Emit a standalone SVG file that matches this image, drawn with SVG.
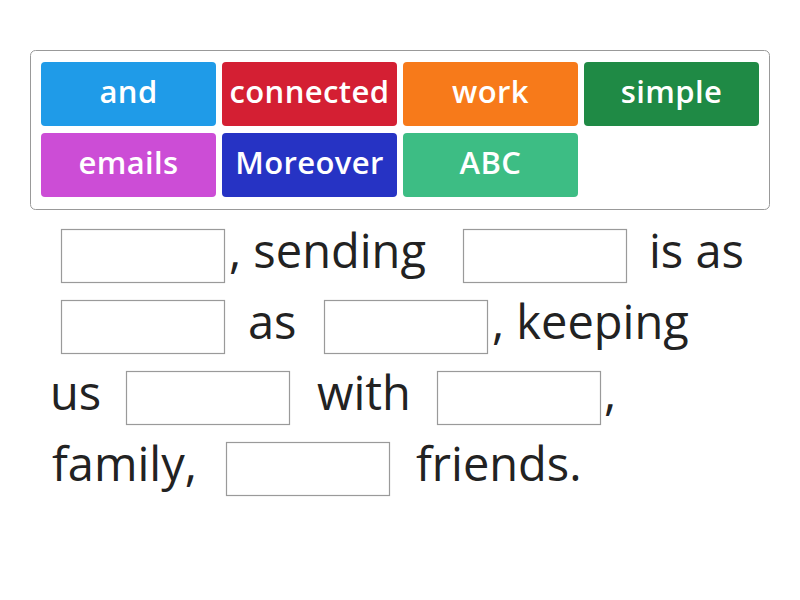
<svg xmlns="http://www.w3.org/2000/svg" width="800" height="600" viewBox="0 0 800 600">
<style>
.t{font-family:"Open Sans",sans-serif;font-weight:600;font-size:31px;letter-spacing:0.4px;fill:#fff;text-anchor:middle}
.s{font-family:"Open Sans",sans-serif;font-size:47px;fill:#222}
.b{fill:#fff;stroke:#9a9a9a;stroke-width:1.2}
</style>
<rect width="800" height="600" fill="#fff"/>
<rect x="30.5" y="50.5" width="739" height="159" rx="5" fill="#fff" stroke="#999"/>
<g id="and"><rect x="41" y="62" width="175" height="64" rx="4" fill="#1f9be8"/><text class="t" x="128.5" y="103">and</text></g>
<g id="connected"><rect x="222" y="62" width="175" height="64" rx="4" fill="#d41f33"/><text class="t" x="309.5" y="103">connected</text></g>
<g id="work"><rect x="403" y="62" width="175" height="64" rx="4" fill="#f77a1a"/><text class="t" x="490.5" y="103">work</text></g>
<g id="simple"><rect x="584" y="62" width="175" height="64" rx="4" fill="#1f8a45"/><text class="t" x="671.5" y="103">simple</text></g>
<g id="emails"><rect x="41" y="133" width="175" height="64" rx="4" fill="#cc4dd6"/><text class="t" x="128.5" y="174">emails</text></g>
<g id="moreover"><rect x="222" y="133" width="175" height="64" rx="4" fill="#2633c4"/><text class="t" x="309.5" y="174">Moreover</text></g>
<g id="abc"><rect x="403" y="133" width="175" height="64" rx="4" fill="#3dbd84"/><text class="t" x="490.5" y="174">ABC</text></g>
<g id="blanks">
<rect class="b" x="61.5" y="229.5" width="163" height="53"/>
<rect class="b" x="463.5" y="229.5" width="163" height="53"/>
<rect class="b" x="61.5" y="300.5" width="163" height="53"/>
<rect class="b" x="324.5" y="300.5" width="163" height="53"/>
<rect class="b" x="126.5" y="371.5" width="163" height="53"/>
<rect class="b" x="437.5" y="371.5" width="163" height="53"/>
<rect class="b" x="226.5" y="442.5" width="163" height="53"/>
</g>
<g id="text">
<text class="s" x="229" y="268">, sending</text>
<text class="s" x="649" y="268">is as</text>
<text class="s" x="248" y="339">as</text>
<text class="s" x="492" y="339">, keeping</text>
<text class="s" x="50" y="410">us</text>
<text class="s" x="317" y="410">with</text>
<text class="s" x="604" y="410">,</text>
<text class="s" x="52" y="481">family,</text>
<text class="s" x="416" y="481">friends.</text>
</g>
</svg>
